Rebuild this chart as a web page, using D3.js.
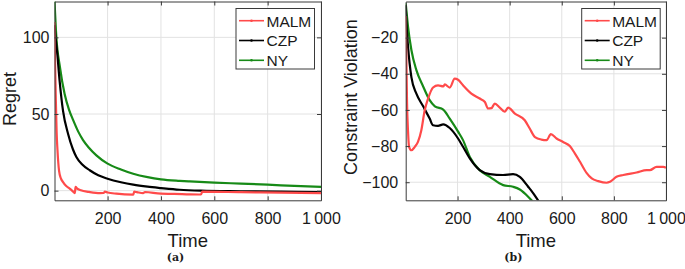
<!DOCTYPE html>
<html lang="en">
<head>
    <meta charset="UTF-8">
    <title></title>
    <style type="text/css">
        body { margin:0; background:#fff }
        svg text { font-family: "Liberation Sans", Arial, sans-serif; fill:#1a1a1a }
        svg text.cap { font-family: "DejaVu Serif", "Liberation Serif", serif; font-weight:bold }
    </style>
</head>
<body>
<script src="https://d3js.org/d3.v7.min.js"></script>
<script>
    // legend / series names
    var seriesNames = ['MALM', 'CZP', 'NY'];
    var xTicks = [200, 400, 600, 800, 1000];
    var xTickLabels = ['200', '400', '600', '800', '1\u2009000'];

    // (a) regret
    var regretTicks = [0, 50, 100];
    var regretMalmT = [1, 3, 6, 9, 12, 18, 25, 33, 45, 58, 70, 77, 80, 85, 100, 130, 171, 185, 190, 200, 233, 296, 300, 310, 333, 340, 400, 450, 508, 550, 555, 700, 850, 1000];
    var regretMalm = [110, 85, 59, 38, 27, 13, 8, 5.6, 3, 1.3, -0.5, -1.6, 2.4, 1.5, 0.2, -0.8, -1.6, -1.5, -0.7, -1.2, -2, -2.6, -0.7, -1.0, -1.6, -0.9, -2, -2.1, -2.4, -2.5, -0.7, -1.0, -1.3, -1.6];
    var regretCzpT = [1, 5, 10, 20, 33, 52, 70, 83, 105, 133, 165, 200, 250, 296, 350, 400, 470, 550, 700, 850, 1000];
    var regretCzp = [108, 100, 92, 72, 52, 37, 27, 22, 17, 13.3, 10, 7.8, 5.5, 3.9, 2.6, 1.7, 0.6, 0, -0.4, -0.7, -0.9];
    var regretNyT = [1, 8, 21, 39, 55, 71, 90, 108, 130, 158, 200, 250, 296, 350, 400, 470, 508, 600, 700, 800, 900, 1000];
    var regretNy = [124, 100, 81, 63, 53, 46, 38.5, 33, 28, 23, 17.6, 13.8, 11, 8.8, 7.4, 6.4, 6.0, 5.2, 4.6, 3.9, 3.1, 2.4];

    // (b) constraint violation
    var violTicks = [-100, -80, -60, -40, -20];
    var violMalmT = [1, 3, 6, 10, 14, 23, 36, 48, 61, 74, 87, 106, 125, 145, 151, 170, 189, 202, 221, 253, 285, 305, 317, 330, 343, 362, 381, 394, 420, 458, 477, 497, 522, 542, 558, 580, 605, 631, 650, 670, 695, 715, 740, 772, 785, 810, 836, 887, 926, 938, 964, 990, 1000];
    var violMalm = [-8, -25, -55, -72, -80.4, -82.3, -80.4, -77.7, -71.2, -60.2, -53.7, -47.6, -46.4, -47, -45.9, -47.6, -42.7, -43.3, -46.4, -51, -53.7, -55.6, -59.2, -59, -56.5, -58.7, -61, -58.7, -62, -65.7, -70.3, -75, -76.4, -76.7, -73.4, -75.8, -77.7, -80, -84, -88.7, -94.8, -97.9, -99.4, -100.3, -99.8, -97, -96, -94.6, -93.3, -93.3, -91.5, -91.5, -92];
    var violCzpT = [1, 5, 10, 23, 42, 68, 93, 106, 125, 145, 170, 202, 221, 247, 285, 324, 375, 413, 439, 471, 490, 509, 530];
    var violCzp = [-2, -15, -25, -42, -51, -58, -64.8, -68.5, -68.8, -68, -70, -75.8, -80.4, -86.8, -93.3, -95.5, -96, -95.5, -97, -102.5, -106, -110, -114];
    var violNyT = [1, 10, 23, 42, 68, 93, 113, 145, 170, 202, 221, 247, 285, 324, 375, 413, 439, 471, 484, 500];
    var violNy = [-1, -14, -27, -38, -47, -54.6, -58, -59.8, -64.8, -72, -76.7, -86, -93.3, -97, -101.6, -102.5, -104, -108, -110, -113];

    var colors = ['#ff4a4a', '#000000', '#178a17'];
    var width = 685, height = 269,
        svg = d3.select('body').append('svg')
                .attr('width', width)
                .attr('height', height);

    function zip(t, v) {
        return t.map(function(d, i){ return [d, v[i]]; });
    }

    function drawPanel(p) {
        var xScale = d3.scaleLinear().domain([1, 1000]).range([p.x0, p.x1]),
            yScale = d3.scaleLinear().domain(p.yDomain).range([p.y1, p.y0]);
        var g = svg.append('g');

        g.append('clipPath').attr('id', p.id)
            .append('rect')
            .attr('x', p.x0).attr('y', p.y0)
            .attr('width', p.x1 - p.x0).attr('height', p.y1 - p.y0);

        // grid
        g.selectAll('.gx').data(xTicks).enter().append('line')
            .attr('x1', function(d){ return xScale(d); })
            .attr('x2', function(d){ return xScale(d); })
            .attr('y1', p.y0).attr('y2', p.y1)
            .attr('stroke', '#e2e2e2').attr('stroke-width', 1);
        g.selectAll('.gy').data(p.yTicks).enter().append('line')
            .attr('y1', function(d){ return yScale(d); })
            .attr('y2', function(d){ return yScale(d); })
            .attr('x1', p.x0).attr('x2', p.x1)
            .attr('stroke', '#e2e2e2').attr('stroke-width', 1);

        // lines
        var line = d3.line()
            .x(function(d){ return xScale(d[0]); })
            .y(function(d){ return yScale(d[1]); })
            .curve(d3.curveMonotoneX);
        var lg = g.append('g').attr('clip-path', 'url(#' + p.id + ')');
        p.series.slice().reverse().forEach(function(s){
            lg.append('path')
                .attr('d', line(s.data))
                .attr('fill', 'none')
                .attr('stroke', s.color)
                .attr('stroke-width', 2.2)
                .attr('stroke-linejoin', 'round');
        });

        // axes with inside ticks, box on
        var fmt = function(d){ return xTickLabels[xTicks.indexOf(d)]; };
        var xAxis = d3.axisBottom(xScale).tickValues(xTicks).tickFormat(fmt).tickSizeInner(-4).tickSizeOuter(0).tickPadding(12);
        var xTop = d3.axisTop(xScale).tickValues(xTicks).tickFormat('').tickSizeInner(-4).tickSizeOuter(0);
        var yAxis = d3.axisLeft(yScale).tickValues(p.yTicks).tickSizeInner(-4).tickSizeOuter(0).tickPadding(p.yPad);
        var yRight = d3.axisRight(yScale).tickValues(p.yTicks).tickFormat('').tickSizeInner(-4).tickSizeOuter(0);

        var axes = [
            g.append('g').attr('transform', 'translate(0,' + p.y1 + ')').call(xAxis),
            g.append('g').attr('transform', 'translate(0,' + p.y0 + ')').call(xTop),
            g.append('g').attr('transform', 'translate(' + p.x0 + ',0)').call(yAxis),
            g.append('g').attr('transform', 'translate(' + p.x1 + ',0)').call(yRight)
        ];
        axes.forEach(function(a){
            a.select('.domain').attr('stroke', '#3a3a3a');
            a.selectAll('.tick line').attr('stroke', '#3a3a3a');
            a.selectAll('.tick text').attr('font-size', '16px').attr('fill', '#1a1a1a')
                .style('font-family', '"Liberation Sans", Arial, sans-serif');
        });

        // axis labels
        g.append('text')
            .attr('x', (p.x0 + p.x1) / 2).attr('y', 246.5)
            .attr('text-anchor', 'middle').attr('font-size', '18.5px')
            .text('Time');
        g.append('text')
            .attr('transform', 'translate(' + p.yLabelX + ',' + p.yLabelY + ') rotate(-90)')
            .attr('text-anchor', 'middle').attr('font-size', '18px')
            .text(p.yLabel);
        g.append('text')
            .attr('class', 'cap')
            .attr('x', p.capX).attr('y', 261)
            .attr('text-anchor', 'middle').attr('font-size', '11px')
            .text(p.caption);

        // legend
        var lx = p.legendX, ly = 8.5;
        g.append('rect')
            .attr('x', lx).attr('y', ly)
            .attr('width', 78.5).attr('height', 60.5)
            .attr('fill', '#fff').attr('stroke', '#3a3a3a').attr('stroke-width', 1);
        p.series.forEach(function(s, i){
            var yy = ly + 12.2 + i * 19.8;
            g.append('line')
                .attr('x1', lx + 3).attr('x2', lx + 28)
                .attr('y1', yy).attr('y2', yy)
                .attr('stroke', s.color).attr('stroke-width', 1.6);
            g.append('circle')
                .attr('cx', lx + 15.5).attr('cy', yy).attr('r', 1.3)
                .attr('fill', s.color);
            g.append('text')
                .attr('x', lx + 30.5).attr('y', yy + 5.8)
                .attr('font-size', '15.5px')
                .text(s.name);
        });
    }

    drawPanel({
        id: 'clipA', x0: 54.5, x1: 321, y0: 1.5, y1: 200.3,
        yDomain: [-6.3, 123.4], yTicks: regretTicks, yPad: 5,
        yLabel: 'Regret', yLabelX: 16, yLabelY: 99,
        caption: '(a)', capX: 175.5, legendX: 236,
        series: [
            { name: seriesNames[0], color: colors[0], data: zip(regretMalmT, regretMalm) },
            { name: seriesNames[1], color: colors[1], data: zip(regretCzpT, regretCzp) },
            { name: seriesNames[2], color: colors[2], data: zip(regretNyT, regretNy) }
        ]
    });

    drawPanel({
        id: 'clipB', x0: 405.7, x1: 666, y0: 1.5, y1: 200.3,
        yDomain: [-110, 0], yTicks: violTicks, yPad: 7.5,
        yLabel: 'Constraint Violation', yLabelX: 357, yLabelY: 97,
        caption: '(b)', capX: 513.3, legendX: 581.7,
        series: [
            { name: seriesNames[0], color: colors[0], data: zip(violMalmT, violMalm) },
            { name: seriesNames[1], color: colors[1], data: zip(violCzpT, violCzp) },
            { name: seriesNames[2], color: colors[2], data: zip(violNyT, violNy) }
        ]
    });
</script>
</body>
</html>
